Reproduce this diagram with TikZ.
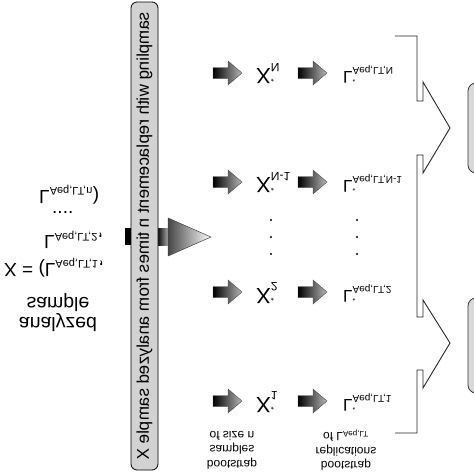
\documentclass[tikz,border=0pt]{standalone}
\usepackage{fontspec}
\setmainfont{Liberation Sans}
\newcommand\supsub[4]{\ensuremath{^{\hbox{\fontsize{#1}{#1}\selectfont #2}}_{\hbox{\fontsize{#3}{#3}\selectfont #4}}}}
\newcommand\subonly[2]{\ensuremath{_{\hbox{\fontsize{#1}{#1}\selectfont #2}}}}
\begin{document}
\begin{tikzpicture}[x=1pt,y=1pt,yscale=-1,every node/.append style={transform shape},
  lbl/.style={inner sep=0pt},
  blockarrow/.style={left color=black,right color=gray!55,draw=gray!60!black,line width=0.4pt},
  bracketline/.style={draw=black!85,line width=0.9pt},
  grbox/.style={fill=gray!30,draw=black!80,rounded corners=8pt,line width=0.8pt},
  xlab/.style={lbl,anchor=west,font=\fontsize{22}{26}\selectfont},
  llab/.style={lbl,anchor=west,font=\fontsize{17}{20}\selectfont},
  lefttext/.style={lbl,anchor=west,font=\fontsize{19}{22}\selectfont},
  smalltext/.style={lbl,align=center,font=\fontsize{12}{14.5}\selectfont}]
\useasboundingbox (0,0) rectangle (474,474);
\clip (0,0) rectangle (474,474);

% left sample text
\node[lbl,align=center,font=\fontsize{19.5}{20}\selectfont] (an) at (58,313) {analyzed\\sample};
\node[lefttext] (l1) at (4,268) {X = (L\subonly{11}{Aeq,LT,1},};
\node[lefttext] (l2) at (44,240) {L\subonly{11}{Aeq,LT,2},};
\node[lefttext] (ld) at (52,213) {....};
\node[lefttext] (ln) at (39,195) {L\subonly{11}{Aeq,LT,n})};

% big arrow shaft
\fill[black] (125,228) rectangle (160,245);
\shade[left color=black,right color=gray!55] (157,228) rectangle (169,245);
% vertical bar
\node[draw=black,fill=gray!35,rounded corners=6pt,line width=0.8pt,rotate=90,
      minimum width=468,minimum height=27,inner sep=0pt,
      font=\fontsize{17}{20}\selectfont] (bar) at (144.5,236)
      {sampling with replacement n times from analyzed sample X};
% big arrow head
\path[left color=gray!55!black,right color=white,draw=gray!50!black,line width=0.5pt]
  (168,218) -- (211,237) -- (168,256) -- cycle;

% rows
\foreach \yy/\nn in {73/N,182/N-1,292/2,401/1}{
  \path[blockarrow] (213,\yy-5.5) -- (228,\yy-5.5) -- (228,\yy-12) -- (242,\yy)
     -- (228,\yy+12) -- (228,\yy+5.5) -- (213,\yy+5.5) -- cycle;
  \path[blockarrow] (298,\yy-5.5) -- (313,\yy-5.5) -- (313,\yy-12) -- (327,\yy)
     -- (313,\yy+12) -- (313,\yy+5.5) -- (298,\yy+5.5) -- cycle;
  \node[xlab] (x\nn) at (256,\yy+1) {X\supsub{8}{*}{12}{\nn}};
  \node[llab] (L\nn) at (343,\yy+1) {L\supsub{7}{*}{10}{Aeq,LT,\nn}};
}
% vertical dots
\foreach \yy in {220,237,254}{
  \fill (271,\yy) circle (1.2);
  \fill (357,\yy) circle (1.2);
}

% bracket with two open arrow heads
\draw[bracketline] (395,36) -- (417,36) -- (417,101) -- (423,101) -- (423,82)
  -- (450,128) -- (423,173) -- (423,155) -- (417,155) -- (417,317) -- (423,317)
  -- (423,300) -- (450,343) -- (423,388) -- (423,370) -- (417,370) -- (417,433)
  -- (395,433);

% result boxes (cut by the border)
\path[grbox] (468,83) rectangle (530,173);
\path[grbox] (468,298) rectangle (530,393);

% bottom captions
\node[smalltext] (cap1) at (232,450) {bootstrap\\samples\\of size n};
\node[smalltext] (cap2) at (346,450) {bootstrap\\replications\\of L\subonly{8}{Aeq,LT}};
\end{tikzpicture}
\end{document}
